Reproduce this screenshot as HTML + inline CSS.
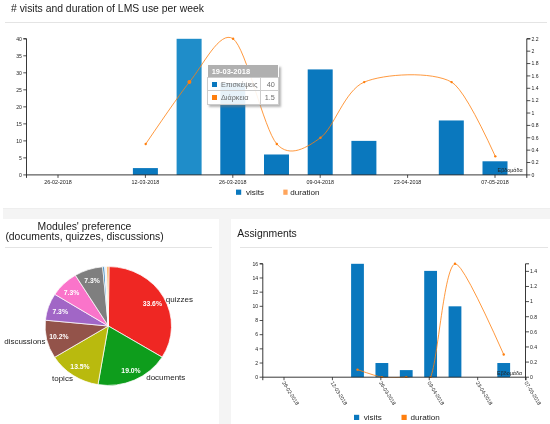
<!DOCTYPE html>
<html lang="en">
<head>
<meta charset="utf-8">
<title>LMS dashboard</title>
<style>
html,body{margin:0;padding:0}
body{width:550px;height:424px;position:relative;overflow:hidden;background:#fff;font-family:'Liberation Sans', sans-serif;color:#222}
.band{position:absolute;left:3px;top:207.6px;width:547px;height:216.5px;background:#f4f4f4;border-top:1px solid #eeeeee}
.panel{position:absolute;background:#fff}
.p1{left:0;top:0;width:550px;height:207.5px}
.p2{left:0;top:219.3px;width:219.2px;height:205px}
.p3{left:231.3px;top:219.3px;width:319px;height:205px}
.title{position:absolute;font-size:10.4px;line-height:10px;white-space:nowrap;color:#1a1a1a}
.hr{position:absolute;height:1px;background:#e4e4e4}
.chart{position:absolute;display:block;overflow:hidden}
.tip{position:absolute;left:207px;top:65px;width:70.5px;background:rgba(255,255,255,.9);box-shadow:1.5px 1.5px 2px rgba(120,120,120,.55);font-size:7.3px;color:#6e6e6e;border-collapse:collapse;border-spacing:0;table-layout:fixed}
.tip th{background:#b0b0b0;color:#fff;font-weight:bold;text-align:left;padding:0 0 0 4.2px;height:12.0px;font-size:7.5px}
.tip td{height:12.25px;padding:0;border:0.6px solid #ccc;white-space:nowrap}
.tip td.n{padding-left:3.6px}
.tip td.v{text-align:right;padding-right:2.6px;border-left:0.6px dotted #999}
.tip i{display:inline-block;width:5.2px;height:5.2px;margin-right:4.2px;vertical-align:-0.3px}
</style>
</head>
<body>
<div class="band"></div>
<div class="panel p1">
  <div class="title" style="left:11px;top:4px"># visits and duration of LMS use per week</div>
  <div class="hr" style="left:5px;top:22.3px;width:542px"></div>
</div>
<svg class="chart" style="left:0;top:24px" width="550" height="183" viewBox="0 24 550 183">
<g font-family="'Liberation Sans', sans-serif" font-size="5.4" fill="#222">
<rect x="132.90" y="168.09" width="25.0" height="6.81" fill="#0a78be"/>
<rect x="176.60" y="38.80" width="25.0" height="136.10" fill="#1f8dc9"/>
<rect x="220.30" y="83.03" width="25.0" height="91.87" fill="#0a78be"/>
<rect x="264.00" y="154.49" width="25.0" height="20.41" fill="#0a78be"/>
<rect x="307.70" y="69.42" width="25.0" height="105.48" fill="#0a78be"/>
<rect x="351.40" y="140.88" width="25.0" height="34.03" fill="#0a78be"/>
<rect x="438.80" y="120.46" width="25.0" height="54.44" fill="#0a78be"/>
<rect x="482.50" y="161.29" width="25.0" height="13.61" fill="#0a78be"/>
<path d="M145.70,143.97Q180.66,92.62,189.40,82.10C202.51,66.33,219.99,29.52,233.10,38.80S263.69,129.12,276.80,143.97S307.39,147.06,320.50,137.78S344.54,90.46,364.20,82.10S431.94,70.97,451.60,82.10Q464.71,89.53,495.30,156.34" fill="none" stroke="#ff7f0e" stroke-width="0.8"/>
<circle cx="145.70" cy="143.97" r="1.2" fill="#ff7f0e"/>
<circle cx="189.40" cy="82.10" r="2.0" fill="#ff7f0e"/>
<circle cx="233.10" cy="38.80" r="1.2" fill="#ff7f0e"/>
<circle cx="276.80" cy="143.97" r="1.2" fill="#ff7f0e"/>
<circle cx="320.50" cy="137.78" r="1.2" fill="#ff7f0e"/>
<circle cx="364.20" cy="82.10" r="1.2" fill="#ff7f0e"/>
<circle cx="451.60" cy="82.10" r="1.2" fill="#ff7f0e"/>
<circle cx="495.30" cy="156.34" r="1.2" fill="#ff7f0e"/>
<path d="M23.5,38.8H26.5V174.9H526.8V38.8H530.3" fill="none" stroke="#222" stroke-width="0.9"/>
<path d="M26.5,174.9v3M526.8,174.9v3" fill="none" stroke="#222" stroke-width="0.9"/>
<path d="M23.3,174.90h3.2" stroke="#222" stroke-width="0.8"/>
<text x="21.9" y="176.70" text-anchor="end" font-size="5.1">0</text>
<path d="M23.3,157.89h3.2" stroke="#222" stroke-width="0.8"/>
<text x="21.9" y="159.69" text-anchor="end" font-size="5.1">5</text>
<path d="M23.3,140.88h3.2" stroke="#222" stroke-width="0.8"/>
<text x="21.9" y="142.68" text-anchor="end" font-size="5.1">10</text>
<path d="M23.3,123.86h3.2" stroke="#222" stroke-width="0.8"/>
<text x="21.9" y="125.66" text-anchor="end" font-size="5.1">15</text>
<path d="M23.3,106.85h3.2" stroke="#222" stroke-width="0.8"/>
<text x="21.9" y="108.65" text-anchor="end" font-size="5.1">20</text>
<path d="M23.3,89.84h3.2" stroke="#222" stroke-width="0.8"/>
<text x="21.9" y="91.64" text-anchor="end" font-size="5.1">25</text>
<path d="M23.3,72.82h3.2" stroke="#222" stroke-width="0.8"/>
<text x="21.9" y="74.62" text-anchor="end" font-size="5.1">30</text>
<path d="M23.3,55.81h3.2" stroke="#222" stroke-width="0.8"/>
<text x="21.9" y="57.61" text-anchor="end" font-size="5.1">35</text>
<path d="M23.3,38.80h3.2" stroke="#222" stroke-width="0.8"/>
<text x="21.9" y="40.60" text-anchor="end" font-size="5.1">40</text>
<path d="M526.8,174.90h3.5" stroke="#222" stroke-width="0.8"/>
<text x="531.4" y="176.70" font-size="5.1">0</text>
<path d="M526.8,162.53h3.5" stroke="#222" stroke-width="0.8"/>
<text x="531.4" y="164.33" font-size="5.1">0.2</text>
<path d="M526.8,150.15h3.5" stroke="#222" stroke-width="0.8"/>
<text x="531.4" y="151.95" font-size="5.1">0.4</text>
<path d="M526.8,137.78h3.5" stroke="#222" stroke-width="0.8"/>
<text x="531.4" y="139.58" font-size="5.1">0.6</text>
<path d="M526.8,125.41h3.5" stroke="#222" stroke-width="0.8"/>
<text x="531.4" y="127.21" font-size="5.1">0.8</text>
<path d="M526.8,113.04h3.5" stroke="#222" stroke-width="0.8"/>
<text x="531.4" y="114.84" font-size="5.1">1</text>
<path d="M526.8,100.66h3.5" stroke="#222" stroke-width="0.8"/>
<text x="531.4" y="102.46" font-size="5.1">1.2</text>
<path d="M526.8,88.29h3.5" stroke="#222" stroke-width="0.8"/>
<text x="531.4" y="90.09" font-size="5.1">1.4</text>
<path d="M526.8,75.92h3.5" stroke="#222" stroke-width="0.8"/>
<text x="531.4" y="77.72" font-size="5.1">1.6</text>
<path d="M526.8,63.55h3.5" stroke="#222" stroke-width="0.8"/>
<text x="531.4" y="65.35" font-size="5.1">1.8</text>
<path d="M526.8,51.17h3.5" stroke="#222" stroke-width="0.8"/>
<text x="531.4" y="52.97" font-size="5.1">2</text>
<path d="M526.8,38.80h3.5" stroke="#222" stroke-width="0.8"/>
<text x="531.4" y="40.60" font-size="5.1">2.2</text>
<path d="M58.00,174.9v3" stroke="#222" stroke-width="0.8"/>
<text x="58.00" y="183.70" text-anchor="middle">26-02-2018</text>
<path d="M145.40,174.9v3" stroke="#222" stroke-width="0.8"/>
<text x="145.40" y="183.70" text-anchor="middle">12-03-2018</text>
<path d="M232.80,174.9v3" stroke="#222" stroke-width="0.8"/>
<text x="232.80" y="183.70" text-anchor="middle">26-03-2018</text>
<path d="M320.20,174.9v3" stroke="#222" stroke-width="0.8"/>
<text x="320.20" y="183.70" text-anchor="middle">09-04-2018</text>
<path d="M407.60,174.9v3" stroke="#222" stroke-width="0.8"/>
<text x="407.60" y="183.70" text-anchor="middle">23-04-2018</text>
<path d="M495.00,174.9v3" stroke="#222" stroke-width="0.8"/>
<text x="495.00" y="183.70" text-anchor="middle">07-05-2018</text>
<text x="522.5999999999999" y="172.30" text-anchor="end">Εβδομάδα</text>
</g>
<g font-family="'Liberation Sans', sans-serif" font-size="8.1" fill="#222">
<rect x="236" y="189.6" width="5.2" height="5.2" fill="#0a78be"/><text x="246" y="195">visits</text>
<rect x="283.3" y="189.6" width="4.3" height="5.2" fill="#ffa55c"/><text x="290.2" y="195">duration</text>
</g>
</svg>
<table class="tip">
  <colgroup><col style="width:53px"><col style="width:17.5px"></colgroup>
  <tr><th colspan="2">19-03-2018</th></tr>
  <tr><td class="n"><i style="background:#0a78be"></i>Επισκέψεις</td><td class="v">40</td></tr>
  <tr><td class="n"><i style="background:#ff7f0e"></i>Διάρκεια</td><td class="v">1.5</td></tr>
</table>
<div class="panel p2">
  <div class="title" style="left:5px;top:2.9px;width:159px;text-align:center;line-height:9.5px">Modules' preference<br>(documents, quizzes, discussions)</div>
  <div class="hr" style="left:5px;top:27.8px;width:206.5px"></div>
</div>
<svg class="chart" style="left:0;top:249px" width="220" height="175" viewBox="0 249 220 175">
<g transform="translate(108.3,326.0) scale(63.2,59.4)" stroke="#fff" stroke-width="0.012" stroke-linejoin="round">
<path d="M0,0L0.0105,-0.9999A1,1 0 0 1 0.8517,0.5240Z" fill="#ef2723"/>
<path d="M0,0L0.8517,0.5240A1,1 0 0 1 -0.1633,0.9866Z" fill="#0e9d1c"/>
<path d="M0,0L-0.1633,0.9866A1,1 0 0 1 -0.8499,0.5270Z" fill="#b9ba0e"/>
<path d="M0,0L-0.8499,0.5270A1,1 0 0 1 -0.9952,-0.0976Z" fill="#93534a"/>
<path d="M0,0L-0.9952,-0.0976A1,1 0 0 1 -0.8462,-0.5329Z" fill="#a166c6"/>
<path d="M0,0L-0.8462,-0.5329A1,1 0 0 1 -0.5210,-0.8536Z" fill="#fa74ca"/>
<path d="M0,0L-0.5210,-0.8536A1,1 0 0 1 -0.0889,-0.9960Z" fill="#7f7f7f"/>
<path d="M0,0L-0.0889,-0.9960A1,1 0 0 1 -0.0576,-0.9983Z" fill="#1f77b4"/>
<path d="M0,0L-0.0576,-0.9983A1,1 0 0 1 -0.0227,-0.9997Z" fill="#e4ecf5"/>
<path d="M0,0L-0.0227,-0.9997A1,1 0 0 1 0.0105,-0.9999Z" fill="#ff9a3a"/>
</g>
<g font-family="'Liberation Sans', sans-serif" font-size="6.8" font-weight="bold" fill="#fff" text-anchor="middle">
<text x="152.3" y="305.8">33.6%</text>
<text x="131" y="373.0">19.0%</text>
<text x="80" y="369.0">13.5%</text>
<text x="58.9" y="339.2">10.2%</text>
<text x="60.2" y="313.6">7.3%</text>
<text x="71.6" y="294.9">7.3%</text>
<text x="92" y="282.9">7.3%</text>
</g>
<g font-family="'Liberation Sans', sans-serif" font-size="8" fill="#222">
<text x="165.8" y="301.5">quizzes</text>
<text x="146.2" y="379.5">documents</text>
<text x="52" y="380.9">topics</text>
<text x="4.2" y="344.2">discussions</text>
</g>
</svg>
<div class="panel p3">
  <div class="title" style="left:6px;top:9.5px">Assignments</div>
  <div class="hr" style="left:8.7px;top:28.1px;width:308px"></div>
</div>
<svg class="chart" style="left:231px;top:248px" width="319" height="176" viewBox="231 248 319 176">
<defs><clipPath id="cp2"><rect x="262.8" y="261.8" width="262.7" height="115.99999999999997"/></clipPath></defs>
<g font-family="'Liberation Sans', sans-serif" font-size="5.4" fill="#222">
<rect x="351.10" y="263.80" width="12.8" height="113.40" fill="#0a78be"/>
<rect x="375.47" y="363.02" width="12.8" height="14.18" fill="#0a78be"/>
<rect x="399.84" y="370.11" width="12.8" height="7.09" fill="#0a78be"/>
<rect x="424.21" y="270.89" width="12.8" height="106.31" fill="#0a78be"/>
<rect x="448.58" y="306.32" width="12.8" height="70.88" fill="#0a78be"/>
<rect x="497.32" y="363.02" width="12.8" height="14.18" fill="#0a78be"/>
<g clip-path="url(#cp2)"><path d="M357.50,369.64Q377.00,376.44,381.87,377.20C389.18,378.33,398.93,377.20,406.24,377.20S423.30,394.21,430.61,377.20S444.01,267.20,454.98,263.80Q462.29,261.53,503.72,354.52" fill="none" stroke="#ff7f0e" stroke-width="0.8"/>
<circle cx="357.50" cy="369.64" r="1.2" fill="#ff7f0e"/>
<circle cx="381.87" cy="377.20" r="1.2" fill="#ff7f0e"/>
<circle cx="406.24" cy="377.20" r="1.2" fill="#ff7f0e"/>
<circle cx="430.61" cy="377.20" r="1.2" fill="#ff7f0e"/>
<circle cx="454.98" cy="263.80" r="1.2" fill="#ff7f0e"/>
<circle cx="503.72" cy="354.52" r="1.2" fill="#ff7f0e"/>
</g>
<path d="M259.8,263.8H262.8V377.2H525.5V263.8H529.0" fill="none" stroke="#222" stroke-width="0.9"/>
<path d="M262.8,377.2v3M525.5,377.2v3" fill="none" stroke="#222" stroke-width="0.9"/>
<path d="M259.6,377.20h3.2" stroke="#222" stroke-width="0.8"/>
<text x="258.2" y="379.00" text-anchor="end" font-size="5.1">0</text>
<path d="M259.6,363.02h3.2" stroke="#222" stroke-width="0.8"/>
<text x="258.2" y="364.82" text-anchor="end" font-size="5.1">2</text>
<path d="M259.6,348.85h3.2" stroke="#222" stroke-width="0.8"/>
<text x="258.2" y="350.65" text-anchor="end" font-size="5.1">4</text>
<path d="M259.6,334.68h3.2" stroke="#222" stroke-width="0.8"/>
<text x="258.2" y="336.48" text-anchor="end" font-size="5.1">6</text>
<path d="M259.6,320.50h3.2" stroke="#222" stroke-width="0.8"/>
<text x="258.2" y="322.30" text-anchor="end" font-size="5.1">8</text>
<path d="M259.6,306.32h3.2" stroke="#222" stroke-width="0.8"/>
<text x="258.2" y="308.12" text-anchor="end" font-size="5.1">10</text>
<path d="M259.6,292.15h3.2" stroke="#222" stroke-width="0.8"/>
<text x="258.2" y="293.95" text-anchor="end" font-size="5.1">12</text>
<path d="M259.6,277.98h3.2" stroke="#222" stroke-width="0.8"/>
<text x="258.2" y="279.78" text-anchor="end" font-size="5.1">14</text>
<path d="M259.6,263.80h3.2" stroke="#222" stroke-width="0.8"/>
<text x="258.2" y="265.60" text-anchor="end" font-size="5.1">16</text>
<path d="M525.5,377.20h3.5" stroke="#222" stroke-width="0.8"/>
<text x="530.1" y="379.00" font-size="5.1">0</text>
<path d="M525.5,362.08h3.5" stroke="#222" stroke-width="0.8"/>
<text x="530.1" y="363.88" font-size="5.1">0.2</text>
<path d="M525.5,346.96h3.5" stroke="#222" stroke-width="0.8"/>
<text x="530.1" y="348.76" font-size="5.1">0.4</text>
<path d="M525.5,331.84h3.5" stroke="#222" stroke-width="0.8"/>
<text x="530.1" y="333.64" font-size="5.1">0.6</text>
<path d="M525.5,316.72h3.5" stroke="#222" stroke-width="0.8"/>
<text x="530.1" y="318.52" font-size="5.1">0.8</text>
<path d="M525.5,301.60h3.5" stroke="#222" stroke-width="0.8"/>
<text x="530.1" y="303.40" font-size="5.1">1</text>
<path d="M525.5,286.48h3.5" stroke="#222" stroke-width="0.8"/>
<text x="530.1" y="288.28" font-size="5.1">1.2</text>
<path d="M525.5,271.36h3.5" stroke="#222" stroke-width="0.8"/>
<text x="530.1" y="273.16" font-size="5.1">1.4</text>
<path d="M284.00,377.2v3" stroke="#222" stroke-width="0.8"/>
<text transform="translate(283.80,381.80) rotate(58)" x="0" y="2" font-size="5.2">26-02-2018</text>
<path d="M332.42,377.2v3" stroke="#222" stroke-width="0.8"/>
<text transform="translate(332.22,381.80) rotate(58)" x="0" y="2" font-size="5.2">12-03-2018</text>
<path d="M380.84,377.2v3" stroke="#222" stroke-width="0.8"/>
<text transform="translate(380.64,381.80) rotate(58)" x="0" y="2" font-size="5.2">26-03-2018</text>
<path d="M429.26,377.2v3" stroke="#222" stroke-width="0.8"/>
<text transform="translate(429.06,381.80) rotate(58)" x="0" y="2" font-size="5.2">09-04-2018</text>
<path d="M477.68,377.2v3" stroke="#222" stroke-width="0.8"/>
<text transform="translate(477.48,381.80) rotate(58)" x="0" y="2" font-size="5.2">23-04-2018</text>
<path d="M526.10,377.2v3" stroke="#222" stroke-width="0.8"/>
<text transform="translate(525.90,381.80) rotate(58)" x="0" y="2" font-size="5.2">07-05-2018</text>
<text x="522.1" y="374.60" text-anchor="end">Εβδομάδα</text>
</g>
<g font-family="'Liberation Sans', sans-serif" font-size="8.1" fill="#222">
<rect x="354" y="414.8" width="5.2" height="5.2" fill="#0a78be"/><text x="363.7" y="420.3">visits</text>
<rect x="401.5" y="414.8" width="5.2" height="5.2" fill="#ff7f0e"/><text x="410.5" y="420.3">duration</text>
</g>
</svg>
</body>
</html>
